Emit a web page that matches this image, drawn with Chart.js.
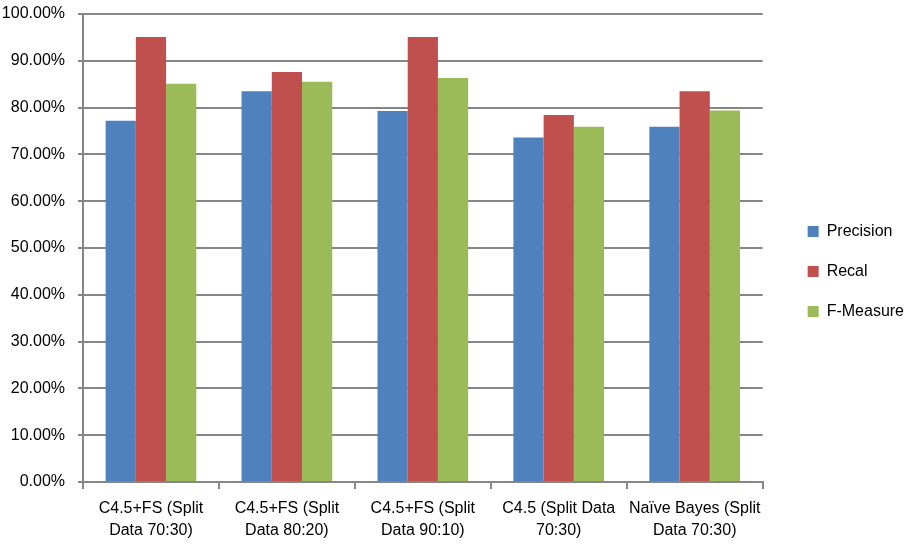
<!DOCTYPE html>
<html>
<head>
<meta charset="utf-8">
<script src="https://cdn.jsdelivr.net/npm/chart.js@4"></script>
<style>
  html, body { margin: 0; padding: 0; background: #fff; }
  #wrap { width: 904px; height: 544px; }
</style>
</head>
<body>
<div id="wrap"><canvas id="chart"></canvas></div>
<script>
// Data
const categories = [
    ['C4.5+FS (Split', 'Data 70:30)'],
    ['C4.5+FS (Split', 'Data 80:20)'],
    ['C4.5+FS (Split', 'Data 90:10)'],
    ['C4.5 (Split Data', '70:30)'],
    ['Naïve Bayes (Split', 'Data 70:30)']
];
const seriesNames = ['Precision', 'Recal', 'F-Measure'];
const precision = [0.772, 0.835, 0.793, 0.736, 0.759];
const recal     = [0.951, 0.876, 0.951, 0.784, 0.835];
const fMeasure  = [0.851, 0.855, 0.863, 0.759, 0.794];
const yTicks = [0, 0.1, 0.2, 0.3, 0.4, 0.5, 0.6, 0.7, 0.8, 0.9, 1.0];

const colors = ['#4F81BD', '#C0504D', '#9BBB59'];
const AXIS = '#868686';

Chart.defaults.font.family = "'Liberation Sans', Arial, sans-serif";
Chart.defaults.color = '#000';

const values = [precision, recal, fMeasure];

// legend sits further right of the plot than chart.js puts it
const legendGap = {
    id: 'legendGap',
    afterInit(chart) {
        const lg = chart.legend;
        if (!lg) return;
        const fit = lg.fit.bind(lg);
        lg.fit = function () { fit(); this.width += 11; };
        const draw = lg.draw.bind(lg);
        lg.draw = function () {
            this.ctx.save();
            this.ctx.translate(21, 0);
            draw();
            this.ctx.restore();
        };
    }
};

new Chart(document.getElementById('chart'), {
    type: 'bar',
    data: {
        labels: categories,
        datasets: seriesNames.map((name, i) => ({
            label: name,
            data: values[i],
            backgroundColor: colors[i],
            borderWidth: 0,
            categoryPercentage: 0.667,
            barPercentage: 1.0
        }))
    },
    plugins: [legendGap],
    options: {
        responsive: true,
        maintainAspectRatio: false,
        animation: false,
        layout: { padding: { top: 1, right: 0, bottom: 2, left: 1 } },
        plugins: {
            legend: {
                position: 'right',
                labels: {
                    boxWidth: 11,
                    boxHeight: 11,
                    padding: 24,
                    font: { size: 16 }
                }
            },
            tooltip: { enabled: false }
        },
        scales: {
            x: {
                afterFit: axis => {
                    axis.height = 60;
                },
                grid: {
                    display: true,
                    drawOnChartArea: false,
                    drawTicks: true,
                    tickLength: 7,
                    color: AXIS,
                    lineWidth: 2,
                    offset: true
                },
                border: { color: AXIS, width: 2 },
                ticks: {
                    font: { size: 16, lineHeight: 1.375 },
                    padding: 9,
                    maxRotation: 0,
                    autoSkip: false
                }
            },
            y: {
                min: 0,
                max: 1,
                afterBuildTicks: axis => {
                    axis.ticks = yTicks.map(v => ({ value: v }));
                },
                afterFit: axis => {
                    axis.width = 82;
                    axis.paddingTop = 14;
                },
                grid: {
                    color: AXIS,
                    lineWidth: 2,
                    tickLength: 5
                },
                border: { color: AXIS, width: 2 },
                ticks: {
                    font: { size: 16 },
                    padding: 13,
                    callback: v => (v * 100).toFixed(2) + '%'
                }
            }
        }
    }
});
</script>
</body>
</html>
